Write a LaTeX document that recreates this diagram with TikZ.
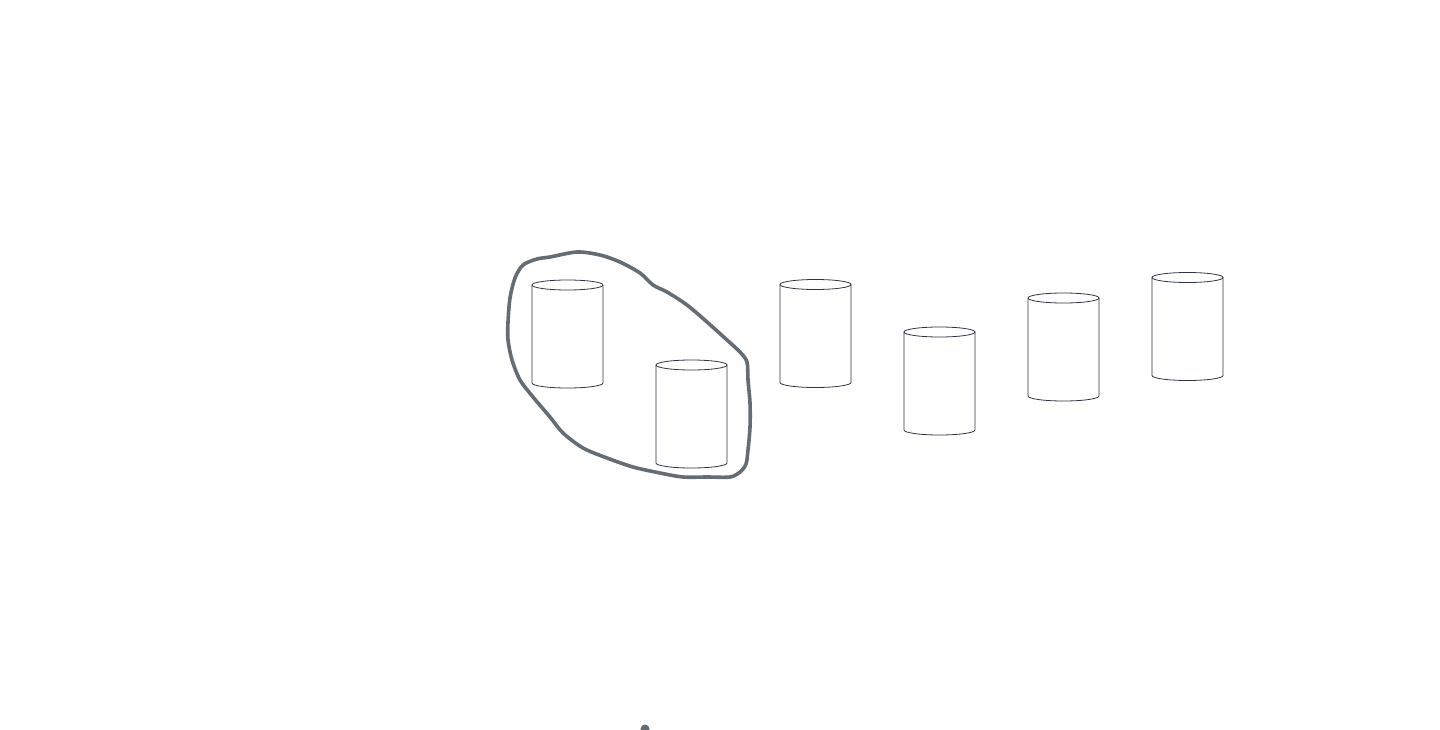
\documentclass[tikz,border=0pt]{standalone}
\usepackage{tikz}
\definecolor{loopgray}{HTML}{646C74}
\definecolor{cylline}{HTML}{2E3440}

\tikzset{
  cylside/.style={draw=cylline, line width=0.8pt},
  dbcyl/.pic={
    \coordinate (-c) at (0,0);
    \draw[cylside] (-35.5,49) -- (-35.5,-49)
      arc[start angle=180, end angle=360, x radius=35.5, y radius=5] -- (35.5,49);
    \draw[cylside] (0,49) ellipse[x radius=35.5, y radius=5];
  },
  lasso/.style={draw=loopgray, line width=3.6pt, line join=round}
}

\begin{document}
\begin{tikzpicture}[x=1pt, y=1pt]
  \useasboundingbox (0,0) rectangle (1440,-730);
  \pic (db1) at (567.5,-334) {dbcyl};
  \pic (db2) at (691.5,-414) {dbcyl};
  \pic (db3) at (815.5,-333.5) {dbcyl};
  \pic (db4) at (939.5,-381) {dbcyl};
  \pic (db5) at (1063.5,-347) {dbcyl};
  \pic (db6) at (1187.5,-326.5) {dbcyl};

  % hand drawn loop round db1 and db2
  \draw[lasso] plot[smooth cycle, tension=0.5] coordinates {
    (508,-322) (510,-298) (515,-278) (523,-265) (537,-259) (550,-257) (577,-252)
    (600,-255) (620,-262) (640,-273) (653,-285) (667,-292) (687,-305) (707,-322)
    (727,-340) (740,-352) (747,-362) (748,-380) (750,-403) (750,-427) (748,-450)
    (746,-464) (740,-472) (730,-477) (707,-477) (683,-477) (660,-473) (633,-467)
    (607,-458) (583,-448) (563,-433) (550,-417) (533,-397) (520,-380) (512,-360)
    (508,-340)};

  \fill[loopgray] (645,-729) circle (4.5);
\end{tikzpicture}
\end{document}
